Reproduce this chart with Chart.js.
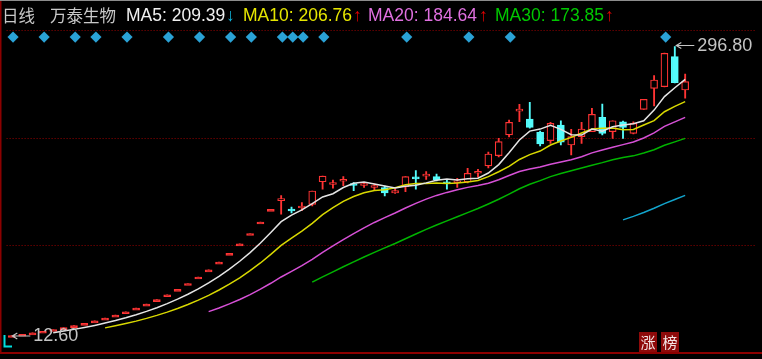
<!DOCTYPE html>
<html>
<head>
<meta charset="utf-8">
<script src="https://cdn.jsdelivr.net/npm/chart.js@4/dist/chart.umd.min.js"></script>
<style>
html,body{margin:0;padding:0;background:#000;overflow:hidden;}
#wrap{position:relative;width:762px;height:359px;}
#c{position:absolute;left:0;top:0;}
.t{position:absolute;top:5px;height:20px;line-height:20px;white-space:nowrap;font-family:"Liberation Sans",Arial,sans-serif;font-size:17.5px;}
.cn{font-family:"Noto Sans CJK SC",sans-serif;font-size:16.5px;color:#c8c8c8;}
.badge{position:absolute;top:332px;width:18px;height:20px;line-height:20px;text-align:center;background:#8e0a0a;color:#f4e4e4;font-family:"Noto Sans CJK SC",sans-serif;font-size:15px;}
</style>
</head>
<body>
<div id="wrap">
<canvas id="c" width="762" height="359"></canvas>
<span class="t cn" style="left:2px">日线</span>
<span class="t cn" style="left:50px">万泰生物</span>
<span class="t" style="left:126px;color:#f0f0f0">MA5: 209.39</span>
<span class="t" style="left:226px;color:#10b8e0">↓</span>
<span class="t" style="left:243px;color:#e6e600">MA10: 206.76</span>
<span class="t" style="left:353px;color:#e00000">↑</span>
<span class="t" style="left:368px;color:#e070e0">MA20: 184.64</span>
<span class="t" style="left:479px;color:#e00000">↑</span>
<span class="t" style="left:495px;color:#00c800">MA30: 173.85</span>
<span class="t" style="left:605px;color:#e00000">↑</span>
<div class="badge" style="left:639px">涨</div>
<div class="badge" style="left:661px">榜</div>
</div>
<script>
// ---- data ----
const opens  = [12.60,13.86,15.25,16.78,18.46,20.31,22.34,24.57,27.03,29.73,32.70,35.97,39.57,43.53,47.88,52.67,57.94,63.73,70.10,77.11,84.82,93.30,102.63,112.89,124.18,136.60,
  145.2,137.0,138.0,141.6,163.8,161.1,164.3,161.1,160.1,158.1,158.1,152.7,158.9,167.7,169.3,168.8,162.8,162.8,163.8,172.2,179.3,189.4,209.8,233.2,225.5,212.4,204.2,219.6,199.9,208.1,213.0,227.2,213.0,222.8,211.4,235.0,255.7,257.3,286.8,254.0];
const highs  = [12.60,13.86,15.25,16.78,18.46,20.31,22.34,24.57,27.03,29.73,32.70,35.97,39.57,43.53,47.88,52.67,57.94,63.73,70.10,77.11,84.82,93.30,102.63,112.89,124.18,136.60,
  150.26,139.0,143.2,154.7,169.4,165.5,168.8,162.9,162.3,161.6,159.6,156.7,168.8,174.7,173.7,171.4,166.2,167.2,177.0,176.0,193.0,206.5,224.5,240.0,241.9,213.7,222.3,223.8,215.4,222.3,236.0,240.2,223.8,223.5,222.8,244.9,268.1,290.3,296.80,269.8];
const lows   = [12.60,13.86,15.25,16.78,18.46,20.31,22.34,24.57,27.03,29.73,32.70,35.97,39.57,43.53,47.88,52.67,57.94,63.73,70.10,77.11,84.82,93.30,102.63,112.89,124.18,136.60,
  131.8,133.1,135.3,140.0,156.4,157.4,159.9,155.0,158.3,155.7,149.8,152.2,154.0,156.4,166.2,164.5,156.4,158.3,162.6,168.2,177.3,188.1,207.8,222.9,216.6,199.0,201.6,199.9,190.1,201.6,213.0,209.8,206.5,206.5,210.8,235.0,238.3,257.0,260.9,245.9];
const closes = [12.60,13.86,15.25,16.78,18.46,20.31,22.34,24.57,27.03,29.73,32.70,35.97,39.57,43.53,47.88,52.67,57.94,63.73,70.10,77.11,84.82,93.30,102.63,112.89,124.18,136.60,
  146.3,135.0,139.0,154.7,169.4,162.1,165.3,160.1,161.1,159.1,152.7,155.0,168.8,166.7,170.2,165.5,161.8,163.7,172.1,173.2,191.1,203.2,222.3,234.2,217.3,200.9,221.3,202.6,208.1,215.7,230.1,211.4,223.8,217.3,221.3,244.9,263.9,290.1,261.2,262.2];
const signalDays = [0,3,6,8,11,15,18,21,23,26,27,28,30,38,44,48,63];
const maPeriods  = [5,10,20,30,60];
const lowLabel  = "12.60";
const highLabel = "296.80";

// ---- styles ----
const UP = '#ff3434', DOWN = '#54fcfc';
const maColors = ['#e4e4e4','#d8d800','#d650d6','#00b400','#12a4cc'];
const Y_MIN = -4.61, Y_MAX = 313.03;
const SIGNAL_ROW = 0.978;

const days = closes.map((_, i) => i);
const isUp = i => closes[i] >= opens[i];

function movingAverage(p) {
  return days.map(i => {
    if (i < p - 1) return {x: i, y: null};
    let s = 0;
    for (let k = i - p + 1; k <= i; k++) s += closes[k];
    return {x: i, y: s / p};
  });
}

const datasets = [];
maPeriods.forEach((p, k) => datasets.push({
  type: 'line', label: 'MA' + p, data: movingAverage(p),
  borderColor: maColors[k], borderWidth: 1.5, pointRadius: 0, tension: 0,
  spanGaps: false, order: 0, yAxisID: 'y'
}));
datasets.push({
  type: 'scatter', label: 'signal', data: signalDays.map(i => ({x: i + 0.12, y: SIGNAL_ROW})),
  pointStyle: 'rectRot', pointRadius: 5.6, backgroundColor: '#2aa2d6', borderWidth: 0,
  yAxisID: 'y2', order: 0
});
datasets.push({
  type: 'bar', label: 'body', grouped: false, order: 1,
  data: days.map(i => ({x: i, y: [Math.min(opens[i], closes[i]), Math.max(opens[i], closes[i])]})),
  barThickness: 7, minBarLength: 2, borderWidth: 1.2, borderSkipped: false,
  borderColor: days.map(i => isUp(i) ? UP : DOWN),
  backgroundColor: days.map(i => isUp(i) ? (opens[i] === closes[i] ? UP : '#000') : DOWN),
  yAxisID: 'y'
});
datasets.push({
  type: 'bar', label: 'wick', grouped: false, order: 2,
  data: days.map(i => ({x: i, y: [lows[i], highs[i]]})),
  barThickness: 1.2, borderWidth: 0,
  backgroundColor: days.map(i => isUp(i) ? UP : DOWN),
  yAxisID: 'y'
});

const frame = {
  id: 'frame',
  beforeDraw(chart) {
    const {ctx, chartArea: a, scales: {y}} = chart;
    ctx.save();
    ctx.fillStyle = '#000'; ctx.fillRect(0, 0, chart.width, chart.height);
    ctx.fillStyle = '#8c8c8c'; ctx.fillRect(0, 0, chart.width, 1);
    const r = (y.max - y.min) / 3;
    ctx.strokeStyle = '#960000'; ctx.lineWidth = 1; ctx.setLineDash([1, 2]);
    [y.max, y.min + 2 * r, y.min + r].forEach(v => {
      const py = Math.round(y.getPixelForValue(v)) + 0.5;
      ctx.beginPath(); ctx.moveTo(a.left + 1, py); ctx.lineTo(a.right, py); ctx.stroke();
    });
    ctx.setLineDash([]);
    ctx.fillStyle = '#8c0000';
    ctx.fillRect(0, a.bottom - 1, chart.width, 2);
    ctx.fillRect(0, 1, 1.5, a.bottom);
    ctx.restore();
  },
  afterDatasetsDraw(chart) {
    const {ctx, scales: {x, y}} = chart;
    ctx.save();
    ctx.strokeStyle = '#c4c4c4'; ctx.fillStyle = '#c4c4c4'; ctx.lineWidth = 1.2;
    ctx.font = '18px "Liberation Sans", Arial, sans-serif';
    ctx.textBaseline = 'middle';
    const arrow = (tx, ty, label) => {
      ctx.beginPath();
      ctx.moveTo(tx, ty); ctx.lineTo(tx + 18, ty);
      ctx.moveTo(tx + 5, ty - 3); ctx.lineTo(tx, ty); ctx.lineTo(tx + 5, ty + 3);
      ctx.stroke();
      ctx.fillText(label, tx + 21, ty + 0.5);
    };
    let hi = 0, lo = 0;
    days.forEach(i => { if (highs[i] > highs[hi]) hi = i; if (lows[i] < lows[lo]) lo = i; });
    arrow(x.getPixelForValue(hi) + 1.5, y.getPixelForValue(highs[hi]) - 1, highLabel);
    arrow(x.getPixelForValue(lo) + 0.5, y.getPixelForValue(lows[lo]) + 0.5, lowLabel);
    // cyan "L" marker at the first bar
    ctx.strokeStyle = '#00dede'; ctx.lineWidth = 2;
    ctx.beginPath(); ctx.moveTo(4.5, 335); ctx.lineTo(4.5, 346.5); ctx.lineTo(12, 346.5); ctx.stroke();
    ctx.restore();
  }
};

new Chart(document.getElementById('c'), {
  type: 'bar',
  data: {datasets},
  options: {
    responsive: false, animation: false, devicePixelRatio: 1,
    layout: {padding: {left: 1, right: 0, top: 30, bottom: 6}},
    plugins: {legend: {display: false}, tooltip: {enabled: false}},
    scales: {
      x: {type: 'linear', min: -0.6, max: 71.876, display: false, offset: false},
      y: {type: 'linear', min: Y_MIN, max: Y_MAX, display: false},
      y2: {type: 'linear', min: 0, max: 1, display: false}
    }
  },
  plugins: [frame]
});
</script>
</body>
</html>
